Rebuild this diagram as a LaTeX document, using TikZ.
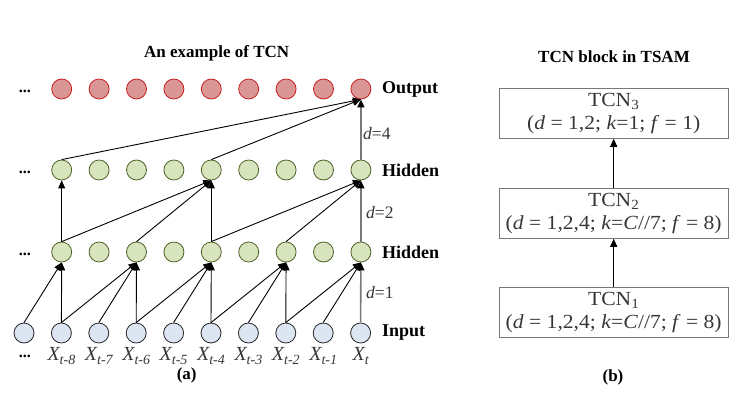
\documentclass[tikz,border=0pt]{standalone}
\usepackage{fontspec}
\setmainfont{Liberation Serif}
\usetikzlibrary{arrows.meta}
\definecolor{outfill}{RGB}{217,150,148}
\definecolor{outline}{RGB}{200,30,30}
\definecolor{hidfill}{RGB}{215,228,189}
\definecolor{hidline}{RGB}{79,98,40}
\definecolor{infill}{RGB}{220,230,242}
\definecolor{inline}{RGB}{38,38,38}
\definecolor{txtgray}{RGB}{55,55,55}
\definecolor{lngray}{RGB}{120,120,120}
\newcommand{\wide}[1]{\scalebox{1.08}[1]{#1}}
\newcommand{\xsub}[1]{X\raisebox{-0.35ex}{\fontsize{14}{14}\selectfont #1}}
\begin{document}
\begin{tikzpicture}[x=1pt,y=-1pt,
  unit/.style={circle,minimum size=20pt,inner sep=0pt,line width=0.8pt},
  outunit/.style={unit,draw=outline,fill=outfill},
  hidunit/.style={unit,draw=hidline,fill=hidfill},
  inunit/.style={unit,draw=inline,fill=infill},
  conn/.style={line width=0.9pt,-{Triangle[length=8pt,width=7pt]}},
  grayconn/.style={line width=1.6pt,draw=lngray,-{Triangle[length=8pt,width=7pt,color=black]}},
  rowlabel/.style={anchor=west,font=\fontsize{18}{20}\selectfont\bfseries,inner sep=0pt},
  dots/.style={font=\fontsize{16}{18}\selectfont\bfseries,inner sep=0pt},
  xlabel/.style={font=\fontsize{20}{22}\selectfont\itshape,text=txtgray,inner sep=0pt},
  dlabel/.style={anchor=west,font=\fontsize{17.5}{19}\selectfont,text=txtgray,inner sep=0pt},
  titlelabel/.style={font=\fontsize{17}{19}\selectfont\bfseries,inner sep=0pt},
  blockbox/.style={draw=lngray,line width=0.9pt,minimum width=229pt,minimum height=50pt,align=center,
    font=\fontsize{20}{23}\selectfont,text=txtgray,inner sep=0pt}]
\useasboundingbox (0,0) rectangle (737,402);

% titles
\node[titlelabel] (title1) at (216.7,53) {An example of TCN};
\node[titlelabel] (title2) at (614,57) {TCN block in TSAM};
\node[titlelabel] (capa) at (186.7,375) {(a)};
\node[titlelabel] (capb) at (613,377) {(b)};

% units
\foreach \j in {0,...,8} {
  \node[outunit] (o\j) at ({61.7+37.4*\j},89) {};
  \node[hidunit] (hb\j) at ({61.7+37.4*\j},170) {};
  \node[hidunit] (ha\j) at ({61.7+37.4*\j},252) {};
}
\foreach \k in {0,...,9} {
  \node[inunit] (in\k) at ({24+37.4*\k},333) {};
}

% dots and row labels
\node[dots] (d0) at (25,91) {...};
\node[dots] (d1) at (25,172) {...};
\node[dots] (d2) at (25,254) {...};
\node[dots] (d3) at (25,356) {...};
\node[rowlabel] (lo) at (382,89) {Output};
\node[rowlabel] (lh2) at (382,170) {Hidden};
\node[rowlabel] (lh1) at (382,252) {Hidden};
\node[rowlabel] (li) at (382,333) {Input};

% input labels
\foreach \k/\s in {1/t-8,2/t-7,3/t-6,4/t-5,5/t-4,6/t-3,7/t-2,8/t-1,9/t} {
  \node[xlabel] (x\k) at ({24+37.4*\k},356) {\xsub{\s}};
}

% dilation labels
\node[dlabel] (dl4) at (363,134) {\textit{d}=4};
\node[dlabel] (dl2) at (366,213) {\textit{d}=2};
\node[dlabel] (dl1) at (366,293) {\textit{d}=1};

% input -> hidden 1
\draw[conn] (in0.north) -- (ha0.south);
\draw[conn] (in1.north) -- (ha0.south);
\foreach \j/\a/\b/\c in {2/1/2/3,4/3/4/5,6/5/6/7} {
  \draw[conn] (in\a.north) -- (ha\j.south);
  \draw[conn] (in\b.north) -- (ha\j.south);
  \draw[conn] (in\c.north) -- (ha\j.south);
}
\draw[conn] (in7.north) -- (ha8.south);
\draw[conn] (in8.north) -- (ha8.south);
\draw[grayconn] (in9.north) -- (ha8.south);

% hidden 1 -> hidden 2
\draw[conn] (ha0.north) -- (hb0.south);
\draw[conn] (ha0.north) -- (hb4.south);
\draw[conn] (ha2.north) -- (hb4.south);
\draw[conn] (ha4.north) -- (hb4.south);
\draw[conn] (ha4.north) -- (hb8.south);
\draw[conn] (ha6.north) -- (hb8.south);
\draw[grayconn] (ha8.north) -- (hb8.south);

% hidden 2 -> output
\draw[conn] (hb0.north) -- (o8.south);
\draw[conn] (hb4.north) -- (o8.south);
\draw[grayconn] (hb8.north) -- (o8.south);

% TCN block
\node[blockbox] (b3) at (613.7,113.3) {\wide{TCN\textsubscript{3}}\\\wide{(\textit{d} = 1,2; \textit{k}=1; \textit{f} = 1)}};
\node[blockbox] (b2) at (613.7,213.3) {\wide{TCN\textsubscript{2}}\\\wide{(\textit{d} = 1,2,4; \textit{k}=\textit{C}//7; \textit{f} = 8)}};
\node[blockbox] (b1) at (613.7,312.2) {\wide{TCN\textsubscript{1}}\\\wide{(\textit{d} = 1,2,4; \textit{k}=\textit{C}//7; \textit{f} = 8)}};
\draw[conn] (b1) -- (b2);
\draw[conn] (b2) -- (b3);
\end{tikzpicture}
\end{document}
